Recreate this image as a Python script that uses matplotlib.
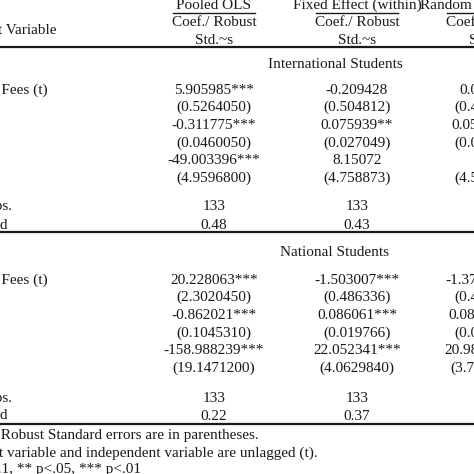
import matplotlib
matplotlib.use("Agg")
import matplotlib.pyplot as plt

plt.rcParams['font.family'] = ['Liberation Serif', 'DejaVu Serif']

models = ["Pooled OLS", "Fixed Effect (within)", "Random Effect (GLS)"]
subhead = ["Coef./ Robust", "Std.~s"]
groups = ["International Students", "National Students"]
row_labels = ["Tuition Fees (t)", "", "", "", "", ""]
intl = [["5.905985***", "(0.5264050)", "-0.311775***", "(0.0460050)", "-49.003396***", "(4.9596800)"],
        ["-0.209428", "(0.504812)", "0.075939**", "(0.027049)", "8.15072", "(4.758873)"],
        ["0.045131", "(0.478211)", "0.054102**", "(0.026201)", "", "(4.512330)"]]
natl = [["20.228063***", "(2.3020450)", "-0.862021***", "(0.1045310)", "-158.988239***", "(19.1471200)"],
        ["-1.503007***", "(0.486336)", "0.086061***", "(0.019766)", "22.052341***", "(4.0629840)"],
        ["-1.371842***", "(0.472105)", "0.083310***", "(0.019104)", "20.981102***", "(3.7742100)"]]
obs = [["133", "133", "133"], ["133", "133", "133"]]
r2 = [["0.48", "0.43", "0.41"], ["0.22", "0.37", "0.35"]]
stat_labels = ["No. of Obs.", "R-squared"]
notes = ["Note: Robust Standard errors are in parentheses.",
         "Dependent variable and independent variable are unlagged (t).",
         "* p<.1, ** p<.05, *** p<.01"]

fig = plt.figure(figsize=(4.74, 4.74), dpi=100)
ax = fig.add_axes([0, 0, 1, 1])
ax.set_xlim(0, 474); ax.set_ylim(474, 0); ax.axis('off')
fs = 11
cx = [214, 357, 488]
col = '#1a1a1a'

for i, m in enumerate(models):
    ax.text(cx[i], 5, m, ha='center', va='center', fontsize=fs, color=col)
    ax.plot([cx[i]-41, cx[i]+41], [13, 13], color=col, lw=1)
    ax.text(cx[i], 22, subhead[0], ha='center', va='center', fontsize=fs, color=col)
    ax.text(cx[i], 40, subhead[1], ha='center', va='center', fontsize=fs, color=col)
ax.text(56, 30, "Dependent Variable", ha='right', va='center', fontsize=fs, color=col)
ax.plot([0, 474], [47, 47], color=col, lw=1.6)

blocks = [(groups[0], intl, obs[0], r2[0], 64, 90, 207, 232),
          (groups[1], natl, obs[1], r2[1], 253, 280, 398, 424)]
for g, data, ob, rr, gy, y0, oy, ly in blocks:
    ax.text(335, gy, g, ha='center', va='center', fontsize=fs, color=col)
    for r in range(6):
        y = y0 + r * 17.6
        if row_labels[r]:
            ax.text(48, y, row_labels[r], ha='right', va='center', fontsize=fs, color=col)
        for c in range(3):
            ax.text(cx[c], y, data[c][r], ha='center', va='center', fontsize=fs, color=col)
    ax.text(12, oy, stat_labels[0], ha='right', va='center', fontsize=fs, color=col)
    ax.text(8, oy + 18, stat_labels[1], ha='right', va='center', fontsize=fs, color=col)
    for c in range(3):
        ax.text(cx[c], oy, ob[c], ha='center', va='center', fontsize=fs, color=col)
        ax.text(cx[c], oy + 18, rr[c], ha='center', va='center', fontsize=fs, color=col)
    ax.plot([0, 474], [ly, ly], color=col, lw=1.6)

ax.text(-37, 435, notes[0], ha='left', va='center', fontsize=fs, color=col)
ax.text(-63, 453, notes[1], ha='left', va='center', fontsize=fs, color=col)
ax.text(-30, 470, notes[2], ha='left', va='center', fontsize=fs, color=col)

fig.savefig("out.png", dpi=100)
